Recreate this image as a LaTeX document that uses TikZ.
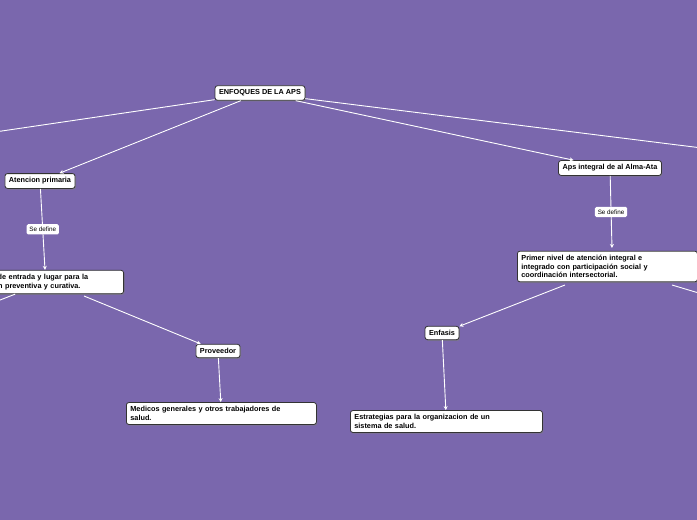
\documentclass[tikz,border=0pt]{standalone}
\usepackage{fontspec}
\setmainfont{Liberation Sans}
\usetikzlibrary{shadows,arrows.meta}
\definecolor{bg}{HTML}{7A67AD}
\begin{document}
\begin{tikzpicture}[x=1pt,y=-1pt,
 box/.style={draw=black!80,fill=white,rounded corners=2.5pt,line width=0.8pt,font=\bfseries\fontsize{7.3}{8.6}\selectfont,inner sep=4pt,drop shadow={shadow xshift=1pt,shadow yshift=-1.2pt,opacity=0.6}},
 wbox/.style={box,align=left,text width=#1},
 lab/.style={fill=white,rounded corners=1.5pt,font=\fontsize{6.3}{7}\selectfont,inner sep=2.8pt},
 con/.style={white,line width=0.9pt},
 arr/.style={con,-{Stealth[length=4pt,width=4pt]}}]
\fill[bg] (0,0) rectangle (697,520);
\clip (0,0) rectangle (697,520);
\node[box] (root) at (260,93) {ENFOQUES DE LA APS};
\node[box] (aten) at (40,181) {Atencion primaria};
\node[box] (aps) at (610,168) {Aps integral de al Alma-Ata};
\node[wbox=147pt,anchor=east] (puerta) at (124,282) {Puerta de entrada y lugar para la\\atencion preventiva y curativa.};
\node[wbox=172pt,anchor=west] (primer) at (517,266.5) {Primer nivel de atención integral e\\integrado con participación social y\\coordinación intersectorial.};
\node[box] (prov) at (218,351) {Proveedor};
\node[wbox=182pt,anchor=west] (med) at (126,413.5) {Medicos generales y otros trabajadores de\\salud.};
\node[wbox=184pt,anchor=west] (estr) at (350,421.5) {Estrategias para la organizacion de un\\sistema de salud.};
\node[box] (enf) at (442,333) {Enfasis};
\coordinate (l1) at (-5,132);
\coordinate (r1) at (702,148);
\coordinate (l2) at (-5,302);
\coordinate (r2) at (702,294);
\draw[con] (root) -- (l1);
\draw[con] (root) -- (r1);
\draw[arr] (root) -- (aten);
\draw[arr] (root) -- (aps);
\draw[arr] (aten) -- node[lab,text=black] {Se define} (puerta.north -| 45,0);
\draw[arr] (aps) -- node[lab,text=black] {Se define} (612,248);
\draw[con] (puerta) -- (l2);
\draw[arr] (84,296) -- (prov);
\draw[arr] (prov) -- (med);
\draw[arr] (565,285) -- (enf);
\draw[con] (672,285) -- (r2);
\draw[arr] (enf) -- (estr);
\end{tikzpicture}
\end{document}
